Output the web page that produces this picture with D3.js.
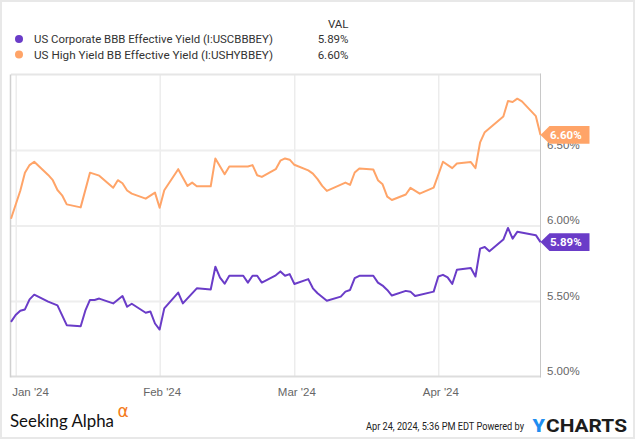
<!DOCTYPE html>
<html>
<head>
<meta charset="utf-8">
<script src="https://cdn.jsdelivr.net/npm/d3@7/dist/d3.min.js"></script>
<style>
  body { margin: 0; background: #fff; }
  svg { display: block; font-family: Roboto, "Noto Sans", sans-serif; }
</style>
</head>
<body>
<svg id="chart" width="635" height="439"></svg>
<script>
// series: [date, yield %]
const bbbYield = [
  ["2023-12-31", 5.362], ["2024-01-01", 5.407], ["2024-01-02", 5.436], ["2024-01-03", 5.444],
  ["2024-01-04", 5.511], ["2024-01-05", 5.542], ["2024-01-08", 5.496], ["2024-01-10", 5.471],
  ["2024-01-12", 5.340], ["2024-01-15", 5.333], ["2024-01-16", 5.436], ["2024-01-17", 5.507],
  ["2024-01-18", 5.507], ["2024-01-19", 5.516], ["2024-01-22", 5.484], ["2024-01-24", 5.533],
  ["2024-01-25", 5.462], ["2024-01-26", 5.482], ["2024-01-29", 5.422], ["2024-01-30", 5.431],
  ["2024-01-31", 5.351], ["2024-02-01", 5.311], ["2024-02-02", 5.451], ["2024-02-05", 5.556],
  ["2024-02-06", 5.484], ["2024-02-09", 5.584], ["2024-02-12", 5.576], ["2024-02-13", 5.727],
  ["2024-02-14", 5.655], ["2024-02-15", 5.615], ["2024-02-16", 5.667], ["2024-02-19", 5.667],
  ["2024-02-20", 5.622], ["2024-02-21", 5.667], ["2024-02-22", 5.667], ["2024-02-23", 5.622],
  ["2024-02-26", 5.670], ["2024-02-27", 5.696], ["2024-02-28", 5.667], ["2024-02-29", 5.678],
  ["2024-03-01", 5.613], ["2024-03-04", 5.645], ["2024-03-05", 5.584], ["2024-03-06", 5.551],
  ["2024-03-08", 5.502], ["2024-03-11", 5.529], ["2024-03-12", 5.562], ["2024-03-13", 5.573],
  ["2024-03-14", 5.651], ["2024-03-15", 5.667], ["2024-03-18", 5.667], ["2024-03-19", 5.622],
  ["2024-03-20", 5.602], ["2024-03-21", 5.573], ["2024-03-22", 5.536], ["2024-03-25", 5.567],
  ["2024-03-26", 5.562], ["2024-03-27", 5.533], ["2024-03-31", 5.562], ["2024-04-01", 5.662],
  ["2024-04-02", 5.673], ["2024-04-03", 5.656], ["2024-04-04", 5.613], ["2024-04-05", 5.707],
  ["2024-04-08", 5.718], ["2024-04-09", 5.662], ["2024-04-10", 5.847], ["2024-04-11", 5.858],
  ["2024-04-12", 5.829], ["2024-04-15", 5.907], ["2024-04-16", 5.984], ["2024-04-17", 5.913],
  ["2024-04-18", 5.958], ["2024-04-22", 5.936], ["2024-04-23", 5.890]
];

const bbYield = [
  ["2023-12-31", 6.045], ["2024-01-02", 6.230], ["2024-01-03", 6.350], ["2024-01-04", 6.400],
  ["2024-01-05", 6.422], ["2024-01-08", 6.335], ["2024-01-09", 6.300], ["2024-01-10", 6.235],
  ["2024-01-11", 6.200], ["2024-01-12", 6.140], ["2024-01-15", 6.120], ["2024-01-17", 6.350],
  ["2024-01-19", 6.330], ["2024-01-22", 6.250], ["2024-01-23", 6.300], ["2024-01-24", 6.280],
  ["2024-01-25", 6.232], ["2024-01-26", 6.211], ["2024-01-29", 6.178], ["2024-01-31", 6.218],
  ["2024-02-01", 6.118], ["2024-02-02", 6.233], ["2024-02-05", 6.373], ["2024-02-07", 6.262],
  ["2024-02-08", 6.284], ["2024-02-09", 6.260], ["2024-02-12", 6.260], ["2024-02-13", 6.444],
  ["2024-02-15", 6.340], ["2024-02-16", 6.391], ["2024-02-20", 6.391], ["2024-02-21", 6.400],
  ["2024-02-22", 6.333], ["2024-02-23", 6.322], ["2024-02-26", 6.373], ["2024-02-27", 6.429],
  ["2024-02-28", 6.444], ["2024-02-29", 6.436], ["2024-03-01", 6.402], ["2024-03-04", 6.365],
  ["2024-03-05", 6.344], ["2024-03-06", 6.307], ["2024-03-07", 6.262], ["2024-03-08", 6.229],
  ["2024-03-12", 6.284], ["2024-03-13", 6.269], ["2024-03-14", 6.351], ["2024-03-15", 6.378],
  ["2024-03-18", 6.371], ["2024-03-19", 6.300], ["2024-03-20", 6.273], ["2024-03-21", 6.191],
  ["2024-03-22", 6.169], ["2024-03-25", 6.205], ["2024-03-26", 6.249], ["2024-03-28", 6.211],
  ["2024-03-31", 6.251], ["2024-04-02", 6.422], ["2024-04-04", 6.380], ["2024-04-05", 6.411],
  ["2024-04-08", 6.420], ["2024-04-09", 6.380], ["2024-04-10", 6.551], ["2024-04-11", 6.618],
  ["2024-04-15", 6.722], ["2024-04-16", 6.824], ["2024-04-17", 6.818], ["2024-04-18", 6.840],
  ["2024-04-19", 6.822], ["2024-04-22", 6.724], ["2024-04-23", 6.600]
];

const seriesNames = [
  "US Corporate BBB Effective Yield (I:USCBBBEY)",
  "US High Yield BB Effective Yield (I:USHYBBEY)"
];
const seriesColors = ["#6a3cc8", "#ffa468"];
const lastValues = ["5.89%", "6.60%"];
const yTicks = [5.0, 5.5, 6.0, 6.5];
const xTicks = ["2024-01-01", "2024-02-01", "2024-03-01", "2024-04-01"];
const xDomain = ["2023-12-31", "2024-04-23"];

const parse = d3.timeParse("%Y-%m-%d");
const svg = d3.select("#chart");

const plot = { left: 11, right: 540.5, top: 74.5, bottom: 376.5 };

const x = d3.scaleTime()
  .domain(xDomain.map(parse))
  .range([plot.left, plot.right]);
const y = d3.scaleLinear()
  .domain([5, 7])
  .range([plot.bottom, plot.top]);

// outer frame
svg.append("rect")
  .attr("x", 1).attr("y", 1).attr("width", 633).attr("height", 437)
  .attr("fill", "none").attr("stroke", "#e8e8e8").attr("stroke-width", 2);

// vertical month grid
const xGrid = svg.append("g")
  .attr("transform", `translate(0,${plot.bottom})`)
  .call(d3.axisBottom(x)
    .tickValues(xTicks.map(parse))
    .tickSize(-(plot.bottom - plot.top))
    .tickFormat(""));
xGrid.select(".domain").remove();
xGrid.selectAll("line").attr("stroke", "#e3e3e3").attr("stroke-width", 1);

// horizontal grid
const yGrid = svg.append("g")
  .attr("transform", `translate(${plot.left},0)`)
  .call(d3.axisRight(y)
    .tickValues(yTicks.filter(v => v > 5))
    .tickSize(plot.right - plot.left)
    .tickFormat(""));
yGrid.select(".domain").remove();
yGrid.selectAll("line").attr("stroke", "#eeeeee").attr("stroke-width", 2);

// plot frame
svg.append("line").attr("x1", plot.left).attr("x2", plot.right)
  .attr("y1", plot.top).attr("y2", plot.top)
  .attr("stroke", "#e6e6e6").attr("stroke-width", 2);
svg.append("line").attr("x1", plot.left).attr("x2", plot.right)
  .attr("y1", plot.bottom).attr("y2", plot.bottom)
  .attr("stroke", "#dddddd").attr("stroke-width", 2);
svg.append("line").attr("x1", plot.left - 0.5).attr("x2", plot.left - 0.5)
  .attr("y1", plot.top).attr("y2", plot.bottom + 1)
  .attr("stroke", "#d0d0d0").attr("stroke-width", 1.5);
svg.append("line").attr("x1", plot.right).attr("x2", plot.right)
  .attr("y1", plot.top - 1).attr("y2", plot.bottom + 1)
  .attr("stroke", "#c8c8c8").attr("stroke-width", 1);

// x labels
const xAxis = svg.append("g")
  .attr("transform", `translate(0,${plot.bottom})`)
  .call(d3.axisBottom(x)
    .tickValues(xTicks.map(parse))
    .tickSize(0)
    .tickFormat(d3.timeFormat("%b '%y")));
xAxis.select(".domain").remove();
xAxis.selectAll("text")
  .attr("y", 19.5).attr("dy", 0).attr("x", 2)
  .attr("fill", "#666").style("font-size", "11.5px");
xAxis.select(".tick text").attr("text-anchor", "start").attr("x", -4);

// y labels
const yAxis = svg.append("g")
  .attr("transform", `translate(${plot.right},0)`)
  .call(d3.axisRight(y)
    .tickValues(yTicks)
    .tickSize(0)
    .tickFormat(d => d3.format(".2f")(d) + "%"));
yAxis.select(".domain").remove();
yAxis.selectAll("text")
  .attr("x", 6.5).attr("dy", -2)
  .attr("fill", "#666").style("font-size", "11.5px");

// lines
const line = d3.line()
  .x(d => x(parse(d[0])))
  .y(d => y(d[1]));

[bbbYield, bbYield].forEach((data, i) => {
  svg.append("path")
    .datum(data)
    .attr("d", line)
    .attr("fill", "none")
    .attr("stroke", seriesColors[i])
    .attr("stroke-width", 2)
    .attr("stroke-linejoin", "round");
});

// end value tags
[bbbYield, bbYield].forEach((data, i) => {
  const last = data[data.length - 1];
  const cy = y(last[1]);
  const tx = plot.right;
  const h = 8.8;
  svg.append("path")
    .attr("d", `M${tx},${cy} L${tx + 9},${cy - h} L589.5,${cy - h} L589.5,${cy + h} L${tx + 9},${cy + h} Z`)
    .attr("fill", seriesColors[i]);
  svg.append("text")
    .attr("x", 550).attr("y", cy + 4.3)
    .attr("fill", "#fff")
    .style("font-size", "11.5px").style("font-weight", "bold")
    .text(lastValues[i]);
});

// legend
svg.append("text")
  .attr("x", 348.5).attr("y", 28).attr("text-anchor", "end")
  .attr("fill", "#333").style("font-size", "11.5px")
  .text("VAL");

seriesNames.forEach((name, i) => {
  const cy = 39 + i * 15.5;
  svg.append("circle")
    .attr("cx", 19).attr("cy", cy).attr("r", 4)
    .attr("fill", seriesColors[i]);
  svg.append("text")
    .attr("x", 34).attr("y", cy + 4.3)
    .attr("fill", "#333").style("font-size", "11.5px")
    .attr("textLength", 239).attr("lengthAdjust", "spacingAndGlyphs")
    .text(name);
  svg.append("text")
    .attr("x", 348.5).attr("y", cy + 4.3).attr("text-anchor", "end")
    .attr("fill", "#333").style("font-size", "11.5px")
    .text(lastValues[i]);
});

// footer
svg.append("text")
  .attr("x", 10).attr("y", 426.5)
  .attr("fill", "#111")
  .attr("textLength", 104).attr("lengthAdjust", "spacingAndGlyphs")
  .style("font-family", "Lato, 'Open Sans', sans-serif").style("font-size", "17.5px")
  .text("Seeking Alpha");
svg.append("text")
  .attr("x", 117.5).attr("y", 417)
  .attr("fill", "#f47b20")
  .style("font-family", "'DejaVu Sans', sans-serif").style("font-size", "17px")
  .text("α");

svg.append("text")
  .attr("x", 366).attr("y", 430)
  .attr("fill", "#222")
  .attr("textLength", 158).attr("lengthAdjust", "spacingAndGlyphs")
  .style("font-size", "11px")
  .text("Apr 24, 2024, 5:36 PM EDT Powered by");
svg.append("text")
  .attr("x", 532.5).attr("y", 431.5)
  .attr("fill", "#1f8ef0")
  .attr("textLength", 12.5).attr("lengthAdjust", "spacingAndGlyphs")
  .style("font-size", "17.5px").style("font-weight", "900")
  .text("Y");
svg.append("text")
  .attr("x", 546).attr("y", 431.5)
  .attr("fill", "#1c1c1c")
  .attr("textLength", 81).attr("lengthAdjust", "spacingAndGlyphs")
  .style("font-size", "17.5px").style("font-weight", "bold")
  .text("CHARTS");
</script>
</body>
</html>
